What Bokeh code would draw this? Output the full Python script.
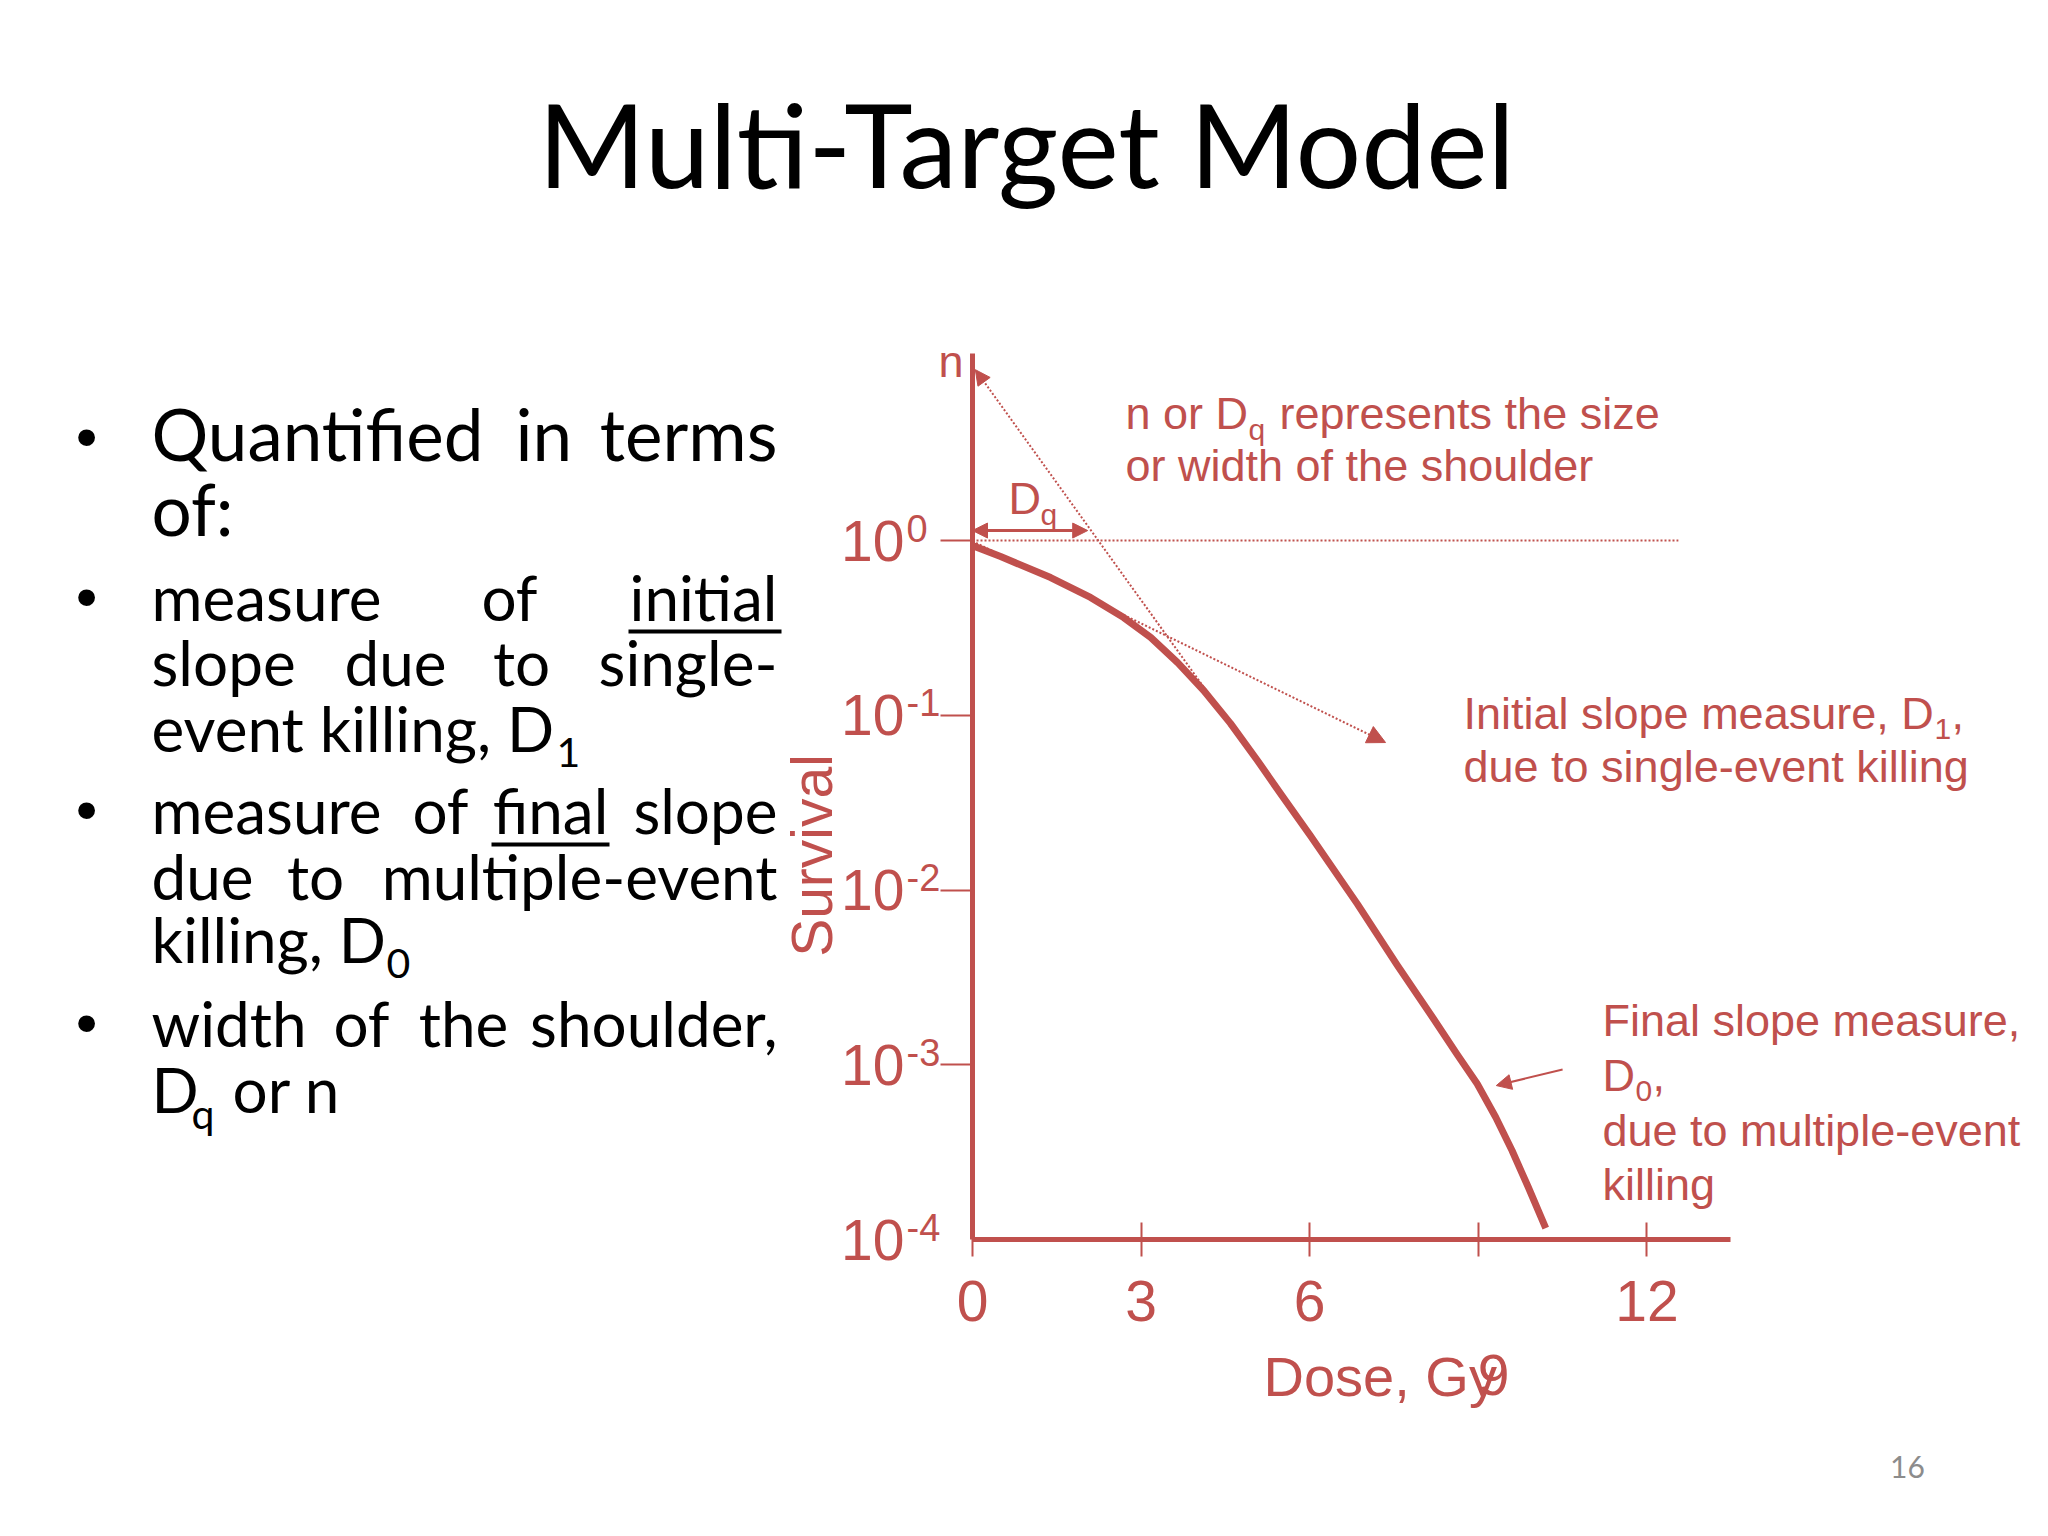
import math
from bokeh.plotting import figure
from bokeh.models import (Range1d, FixedTicker, Arrow, NormalHead,
                          CustomJSTickFormatter)
from bokeh.core.properties import value
from bokeh.embed import file_html
from bokeh.resources import INLINE

# ---------------- data ----------------
dose = [0.0, 0.50, 1.39, 2.10, 2.69, 3.17, 3.65, 4.11, 4.59, 5.07,
        5.53, 6.01, 6.85, 7.56, 8.20, 8.62, 8.98, 9.31, 9.60, 9.89, 10.20]
survival = [0.935, 0.809, 0.614, 0.472, 0.362, 0.279, 0.200, 0.139, 0.0898, 0.0551,
            0.0338, 0.0205, 0.0083, 0.00370, 0.00184, 0.00115, 0.000778,
            0.000501, 0.000323, 0.000199, 0.000116]

x_ticks = [0, 3, 6, 9, 12]
y_ticks = [1e-3, 1e-2, 1e-1, 1.0]
y_label_values = [1e-4, 1e-3, 1e-2, 1e-1, 1.0]
y_exponents = ["-4", "-3", "-2", "-1", "0"]

shoulder_ref_dose = [0.0, 12.56]
shoulder_ref_surv = [1.0, 1.0]
n_extrap_dose = [5.36, 0.05]
n_extrap_surv = [0.0402, 9.5]
init_slope_dose = [0.0, 7.35]
init_slope_surv = [0.99, 0.0698]
dq_dose = [0.0, 2.05]
dq_surv = [1.14, 1.14]
final_arrow_dose = [10.50, 9.32]
final_arrow_surv = [0.00094, 0.00076]

# ---------------- layout ----------------
RED = "#C0504D"
CHART_FONT = "Liberation Sans"
SLIDE_FONT = "Lato"
W, H = 2032, 1520
AX_LEFT, AX_RIGHT, AX_TOP, AX_BOTTOM = 972, 1730, 353, 1239   # page pixels
PX_PER_GY = 56.2
PX_PER_DEC = 174.75
YMIN_EXP = -4
K_BASE = 0.38   # baseline correction (fraction of font size)

x_end = (AX_RIGHT - AX_LEFT) / PX_PER_GY
y_end = 10 ** (YMIN_EXP + (AX_BOTTOM - AX_TOP) / PX_PER_DEC)


def X(px):
    return (px - AX_LEFT) / PX_PER_GY


def Y(py):
    return 10 ** (YMIN_EXP + (AX_BOTTOM - py) / PX_PER_DEC)


def PY(v):
    return AX_BOTTOM - (math.log10(v) - YMIN_EXP) * PX_PER_DEC


p = figure(width=W, height=H, x_range=Range1d(0, x_end),
           y_range=Range1d(10 ** YMIN_EXP, y_end), y_axis_type="log",
           output_backend="svg", toolbar_location=None,
           min_border_left=AX_LEFT, min_border_right=W - AX_RIGHT,
           min_border_top=AX_TOP, min_border_bottom=H - AX_BOTTOM)
p.outline_line_color = None
p.grid.visible = False
p.background_fill_color = "white"
p.border_fill_color = "white"

# x axis
xa = p.xaxis[0]
xa.ticker = FixedTicker(ticks=x_ticks)
xa.formatter = CustomJSTickFormatter(code="return tick == 9 ? '' : String(tick)")
xa.axis_line_color = RED
xa.axis_line_width = 5
xa.major_tick_line_color = RED
xa.major_tick_line_width = 2
xa.major_tick_in = 17
xa.major_tick_out = 17
xa.minor_tick_line_color = None
xa.major_label_text_font = CHART_FONT
xa.major_label_text_font_size = "57px"
xa.major_label_text_color = RED
xa.major_label_standoff = 24

# y axis
ya = p.yaxis[0]
ya.ticker = FixedTicker(ticks=y_ticks)
ya.formatter = CustomJSTickFormatter(code="return '10'")
ya.axis_line_color = RED
ya.axis_line_width = 5
ya.major_tick_line_color = RED
ya.major_tick_line_width = 2
ya.major_tick_in = 0
ya.major_tick_out = 32
ya.minor_tick_line_color = None
ya.major_label_text_font = CHART_FONT
ya.major_label_text_font_size = "57px"
ya.major_label_text_color = RED
ya.major_label_standoff = 36

# curve and guides
p.line(dose, survival, line_width=7, color=RED, line_join="round")
p.line(shoulder_ref_dose, shoulder_ref_surv, line_width=2, color=RED, line_dash="2 2")


def head(sz=16):
    return NormalHead(size=sz, fill_color=RED, line_color=RED)


p.add_layout(Arrow(end=head(15), x_start=n_extrap_dose[0], y_start=n_extrap_surv[0],
                   x_end=n_extrap_dose[1], y_end=n_extrap_surv[1],
                   line_color=RED, line_width=2, line_dash="2 2"))
p.add_layout(Arrow(end=head(18), x_start=init_slope_dose[0], y_start=init_slope_surv[0],
                   x_end=init_slope_dose[1], y_end=init_slope_surv[1],
                   line_color=RED, line_width=2, line_dash="2 2"))
p.add_layout(Arrow(start=head(15), end=head(15), x_start=dq_dose[0], y_start=dq_surv[0],
                   x_end=dq_dose[1], y_end=dq_surv[1], line_color=RED, line_width=3))
p.add_layout(Arrow(end=head(15), x_start=final_arrow_dose[0], y_start=final_arrow_surv[0],
                   x_end=final_arrow_dose[1], y_end=final_arrow_surv[1],
                   line_color=RED, line_width=2))


def lab(text, px, py, size, font=CHART_FONT, color=RED, align="left", angle=0):
    # px, py: page position of the text's alphabetic baseline
    if angle == 0:
        py = py - K_BASE * size
    else:
        px = px - K_BASE * size
    p.text(x=[X(px)], y=[Y(py)], text=[text], text_font=value(font),
           text_font_size=value(f"{size}px"), text_color=color,
           text_align=align, text_baseline="alphabetic",
           angle=math.radians(angle), level="overlay")


def uline(x0, x1, py, color="black", width=4):
    p.segment(x0=[X(x0)], y0=[Y(py)], x1=[X(x1)], y1=[Y(py)],
              line_color=color, line_width=width, level="overlay")


# y tick label at the axis corner and exponents
p.text(x=[X(904)], y=[1e-4], text=["10"], text_font=value(CHART_FONT),
       text_font_size=value("57px"), text_color=RED, text_align="right",
       text_baseline="middle", level="overlay")
for v, e in zip(y_label_values, y_exponents):
    lab(e, 906, PY(v) + 2, 38)

# chart texts
lab("n", 963, 378, 45, align="right")
lab("D", 1008, 515, 45)
lab("q", 1040, 525, 30)
lab("Survival", 833, 855, 57, angle=90, align="center")
lab("Dose, Gy", 1263, 1397, 56)
lab("9", 1493, 1396, 57, align="center")

lab("n or D", 1125, 430, 45)
lab("q", 1248, 440, 30)
lab("represents the size", 1279, 430, 45)
lab("or width of the shoulder", 1125, 482, 45)

lab("Initial slope measure, D", 1463, 730, 45)
lab("1", 1934, 740, 30)
lab(",", 1951, 730, 45)
lab("due to single-event killing", 1463, 783, 45)

lab("Final slope measure,", 1602, 1037, 45)
lab("D", 1602, 1092, 45)
lab("0", 1635, 1102, 30)
lab(",", 1652, 1092, 45)
lab("due to multiple-event", 1602, 1147, 45)
lab("killing", 1602, 1201, 45)

# slide title and bullets
lab("Multi-Target Model", 1026, 187, 116, font=SLIDE_FONT, color="black", align="center")

L1, L2, SUB = 71, 62, 41
bullet_lines = [
    (460, L1, [("Quantified", 151, "left"), ("in", 515, "left"), ("terms", 777, "right")]),
    (535, L1, [("of:", 151, "left")]),
    (620, L2, [("measure", 151, "left"), ("of", 509, "center"), ("initial", 777, "right")]),
    (685, L2, [("slope", 151, "left"), ("due", 395, "center"), ("to", 521, "center"),
               ("single-", 777, "right")]),
    (751, L2, [("event killing, D", 151, "left")]),
    (833, L2, [("measure", 151, "left"), ("of", 440, "center"), ("final", 550, "center"),
               ("slope", 777, "right")]),
    (899, L2, [("due", 151, "left"), ("to", 315, "center"), ("multiple-event", 777, "right")]),
    (962, L2, [("killing, D", 151, "left")]),
    (1046, L2, [("width", 151, "left"), ("of", 361, "center"), ("the", 463, "center"),
                ("shoulder,", 777, "right")]),
    (1112, L2, [("D", 151, "left"), ("or n", 232, "left")]),
]
for py, size, words in bullet_lines:
    for t, px, al in words:
        lab(t, px, py, size, font=SLIDE_FONT, color="black", align=al)
lab("1", 556, 768, SUB, font=SLIDE_FONT, color="black")
lab("0", 386, 979, SUB, font=SLIDE_FONT, color="black")
lab("q", 191, 1129, SUB, font=SLIDE_FONT, color="black")
uline(628, 781, 631)
uline(491, 609, 844)
for py in [460, 620, 833, 1046]:
    lab("\u2022", 86, py, 62, font="Liberation Sans", color="black", align="center")

lab("16", 1907, 1478, 30, font=SLIDE_FONT, color="#8C8C8C", align="center")

open("out.html", "w").write(file_html(p, INLINE))
